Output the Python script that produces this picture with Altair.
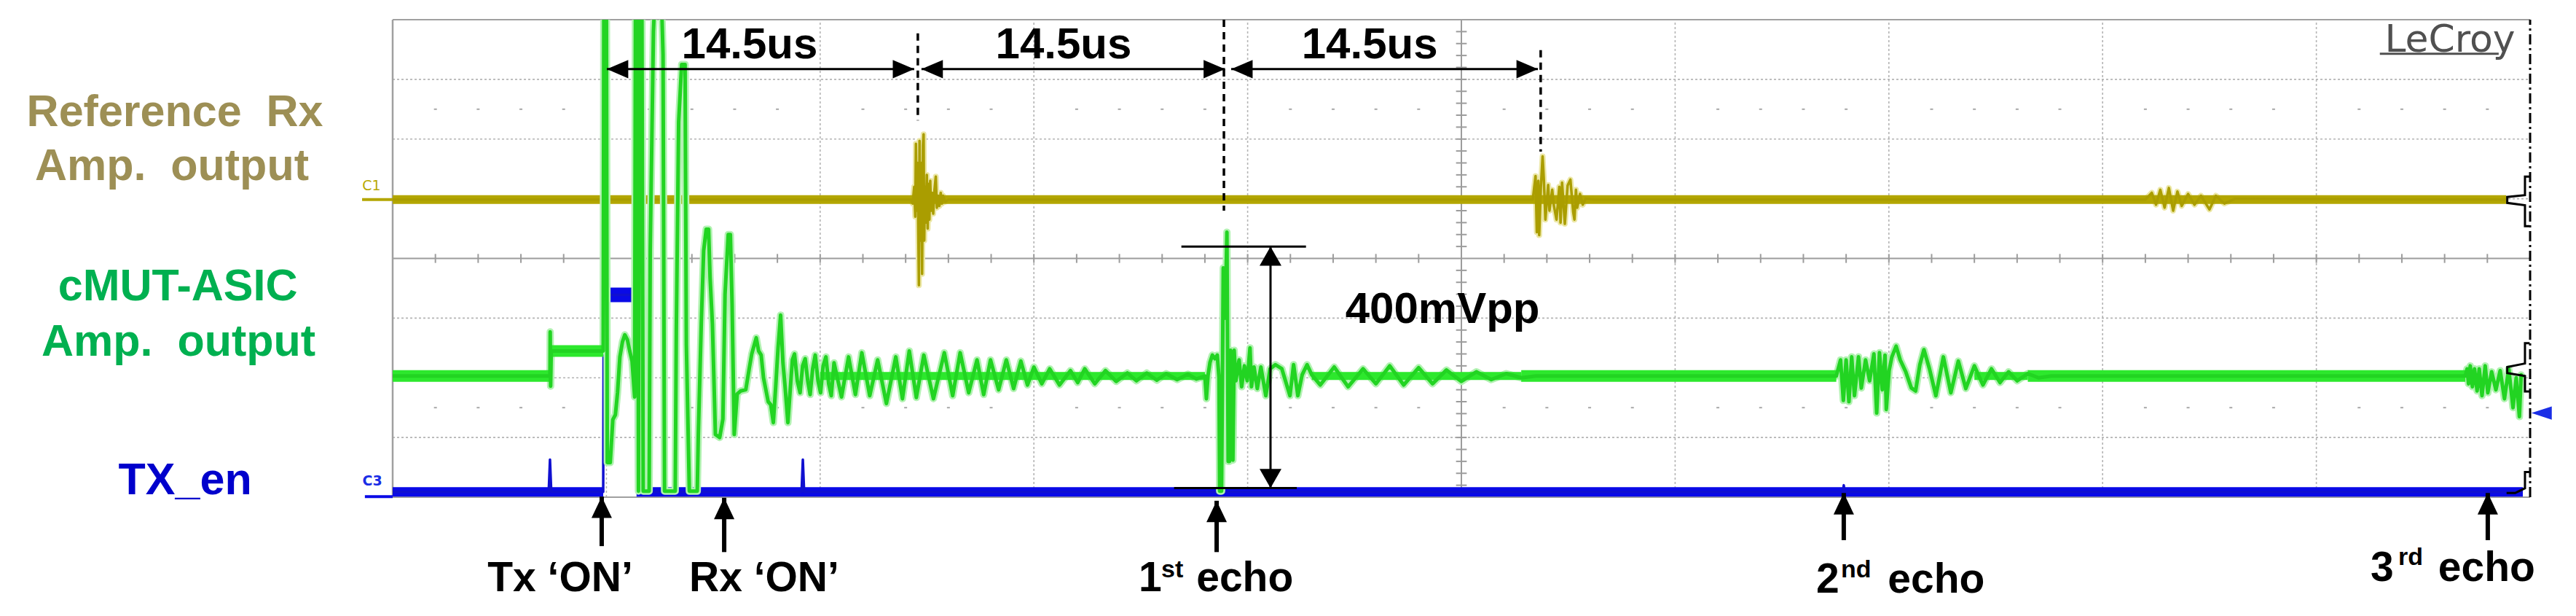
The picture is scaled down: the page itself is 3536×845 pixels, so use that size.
import altair as alt
import pandas as pd

# ---------------- data (time in divisions 0..10, amplitude in divisions -4..4) ----------------
# C1 : Reference Rx amplifier output (olive)
C1_T = [0.0, 2.425, 2.433, 2.440, 2.445, 2.448, 2.452, 2.456, 2.459, 2.462, 2.465, 2.469, 2.473,
        2.477, 2.481, 2.484, 2.487, 2.490, 2.494, 2.499, 2.503, 2.507, 2.511, 2.515, 2.519, 2.524,
        2.529, 2.535, 2.541, 2.546, 2.552, 2.558, 2.564, 2.570, 2.575, 2.585, 2.600,
        5.334, 5.347, 5.353, 5.360, 5.364, 5.372, 5.380, 5.386, 5.393, 5.406, 5.412, 5.425, 5.432,
        5.445, 5.458, 5.464, 5.471, 5.484, 5.497, 5.510, 5.523, 5.529, 5.536, 5.542, 5.555, 5.568,
        5.581, 5.620,
        8.200, 8.230, 8.250, 8.270, 8.290, 8.310, 8.330, 8.350, 8.370, 8.400, 8.430, 8.460, 8.500,
        8.530, 8.570, 8.620, 9.888]
C1_V = [0.985, 0.985, 0.92, 1.20, 0.70, 1.92, 0.80, 1.60, 0.50, -0.45, 1.97, 0.30, 1.60,
        -0.26, 1.90, 2.08, 0.30, 1.20, 0.60, 1.40, 0.50, 1.25, 0.65, 1.30, 0.80, 1.10,
        0.75, 1.15, 1.37, 0.85, 1.05, 0.88, 1.10, 0.92, 1.05, 0.95, 0.985,
        0.985, 1.38, 0.44, 1.30, 0.39, 1.20, 1.71, 1.31, 0.65, 1.23, 0.80, 1.15, 0.90,
        0.65, 1.20, 0.60, 1.27, 0.58, 1.22, 1.32, 0.78, 0.65, 1.15, 0.85, 1.08, 0.90,
        1.00, 0.985,
        0.985, 1.10, 0.90, 1.15, 0.85, 1.18, 0.80, 1.12, 0.88, 1.08, 0.90, 1.05, 0.82,
        1.05, 0.92, 1.00, 0.985]

# C2 : cMUT-ASIC amplifier output (green)
C2_T = [0.0, 0.736, 0.737, 0.739, 0.742, 0.985, 0.988, 1.000, 1.004, 1.018, 1.030, 1.042, 1.052,
        1.063, 1.075, 1.086, 1.098, 1.109, 1.120, 1.132, 1.136, 1.146, 1.150, 1.155, 1.166, 1.172,
        1.200, 1.205, 1.220, 1.226, 1.258, 1.265, 1.272, 1.322, 1.327, 1.338, 1.352, 1.368, 1.374,
        1.388, 1.425, 1.430, 1.444, 1.455, 1.467, 1.478, 1.485, 1.496, 1.510, 1.530, 1.545, 1.555,
        1.570, 1.580, 1.588, 1.598, 1.612, 1.628, 1.652, 1.668, 1.680, 1.701, 1.712, 1.724, 1.735,
        1.746, 1.757, 1.769, 1.781, 1.792, 1.803, 1.815, 1.826, 1.836, 1.849, 1.860, 1.870, 1.880,
        1.893, 1.906, 1.918, 1.930, 1.942, 1.953, 1.965, 1.977, 1.990, 2.002, 2.014, 2.027, 2.040,
        2.052, 2.065, 2.100, 2.133, 2.165, 2.195, 2.232, 2.269, 2.310, 2.354, 2.385, 2.417, 2.450,
        2.485, 2.530, 2.581, 2.620, 2.655, 2.695, 2.734, 2.765, 2.797, 2.835, 2.871, 2.905, 2.939,
        2.970, 3.000, 3.037, 3.074, 3.120, 3.171, 3.205, 3.238, 3.285, 3.335, 3.385, 3.437, 3.480,
        3.528, 3.575, 3.619, 3.670, 3.721, 3.760, 3.800,
        3.807, 3.815, 3.824, 3.835, 3.847, 3.858, 3.866, 3.869, 3.878, 3.886, 3.895, 3.903, 3.909,
        3.915, 3.920, 3.926, 3.931, 3.937, 3.945, 3.960, 3.972, 3.985, 3.998, 4.011, 4.018, 4.030,
        4.045, 4.062, 4.085, 4.105, 4.130, 4.160, 4.198, 4.215, 4.235, 4.255, 4.278, 4.300,
        4.340, 4.405, 4.470, 4.540, 4.600, 4.665, 4.730, 4.800, 4.865, 4.930, 5.000, 5.070, 5.140,
        5.210, 5.280, 5.350, 6.754,
        6.774, 6.787, 6.800, 6.813, 6.826, 6.839, 6.858, 6.871, 6.891, 6.910, 6.930, 6.943, 6.956,
        6.969, 6.982, 6.988, 7.001, 7.014, 7.034, 7.053, 7.079, 7.105, 7.125, 7.145, 7.164, 7.190,
        7.220, 7.255, 7.290, 7.325, 7.360, 7.400, 7.440, 7.480, 7.520, 7.560, 7.600, 7.650, 7.700,
        7.760, 9.697,
        9.705, 9.712, 9.720, 9.730, 9.740, 9.752, 9.762, 9.775, 9.790, 9.802, 9.820, 9.840, 9.860,
        9.880, 9.900, 9.920, 9.935, 9.950, 9.958, 9.965]
C2_V = [-1.97, -1.97, -1.23, -2.14, -1.55, -1.55, 4.3, 4.3, -3.42, -3.42, -2.70, -2.62, -2.25,
        -1.65, -1.40, -1.28, -1.36, -1.55, -1.72, -2.32, 4.3, 4.3, -3.90, 4.3, 4.3, -3.90,
        -3.90, 0.15, 3.80, 4.3, 4.3, 3.41, -3.90, -3.90, -1.23, 2.29, 3.25, 3.25, -1.44,
        -3.90, -3.90, -2.95, -1.07, 0.13, 0.49, 0.49, -0.32, -1.10, -2.95, -3.00, -2.69, -0.60,
        0.40, 0.40, -0.76, -2.95, -2.27, -2.22, -2.20, -1.85, -1.60, -1.33, -1.55, -1.62, -2.00,
        -2.20, -2.40, -2.45, -2.75, -2.15, -1.50, -0.95, -1.75, -2.15, -2.75, -2.20, -1.70, -1.60,
        -2.05, -2.25, -1.80, -1.68, -2.05, -2.28, -1.85, -1.62, -2.05, -2.25, -1.80, -1.65, -2.10,
        -2.30, -1.75, -2.32, -1.65, -2.28, -1.58, -2.30, -1.70, -2.43, -1.65, -2.35, -1.55, -2.33,
        -1.62, -2.35, -1.58, -2.30, -1.58, -2.25, -1.70, -2.28, -1.70, -2.20, -1.70, -2.18, -1.72,
        -2.12, -1.82, -2.10, -1.85, -2.12, -1.88, -2.08, -1.85, -2.10, -1.88, -2.06, -1.92, -2.05,
        -1.92, -2.04, -1.93, -2.03, -1.94, -2.02, -1.97,
        -2.35, -1.95, -1.74, -1.62, -1.68, -1.62, -2.00, -3.90, -3.90, -0.16, -1.00, 0.44, -3.40,
        -3.40, -1.54, -2.20, -3.38, -1.54, -2.05, -1.70, -2.15, -1.80, -2.05, -1.50, -2.15, -1.82,
        -2.18, -1.82, -2.30, -1.85, -1.78, -1.85, -2.30, -1.78, -2.30, -1.95, -1.78, -1.95,
        -2.12, -1.82, -2.15, -1.85, -2.10, -1.80, -2.12, -1.83, -2.10, -1.87, -2.06, -1.90, -2.03,
        -1.93, -2.00, -1.97, -1.97,
        -1.70, -2.38, -1.70, -2.40, -1.65, -2.30, -1.65, -2.17, -1.70, -2.05, -1.60, -2.59, -1.58,
        -2.20, -1.62, -2.53, -1.88, -1.65, -1.47, -1.70, -1.90, -2.17, -2.22, -1.78, -1.53, -1.85,
        -2.30, -1.65, -2.25, -1.72, -2.18, -1.80, -2.12, -1.85, -2.08, -1.90, -2.05, -1.93, -2.00,
        -1.97, -1.97,
        -1.85, -2.10, -1.80, -2.15, -1.85, -2.22, -1.85, -2.30, -1.80, -2.25, -1.90, -2.20, -1.88,
        -2.35, -1.85, -2.50, -2.00, -2.65, -1.95, -2.00]

# C3 : TX_en (blue)
C3_T = [0.0, 0.730, 0.736, 0.742, 0.985, 0.988, 0.990, 0.998, 1.138, 1.141, 1.913, 1.919, 1.925,
        6.785, 6.789, 6.793, 9.966]
C3_V = [-3.91, -3.91, -3.37, -3.91, -3.91, -0.02, -0.61, -0.61, -0.61, -3.91, -3.91, -3.37, -3.91,
        -3.91, -3.80, -3.91, -3.91]

# noise-band stretches: start, end, level
C1_QUIET = [(0.0, 9.888, 0.985)]
C2_QUIET = [(0.0, 0.736, -1.97), (0.742, 0.985, -1.55), (5.28, 6.754, -1.97), (7.65, 9.697, -1.97)]
C2_RIPPLE = [(2.0, 3.80, -1.97), (4.30, 5.28, -1.97), (7.40, 7.65, -1.97)]
C3_QUIET = [(0.0, 0.985, -3.91), (1.141, 9.966, -3.91)]
C3_HIGH = [(0.998, 1.138, -0.61)]

# annotations
SPAN_LABEL = "14.5us"
SPAN_START = [1.002, 2.474, 3.923]
SPAN_END = [2.440, 3.894, 5.358]
SPAN_TEXT_X = [1.670, 3.139, 4.571]
ECHO_MARK_X = [2.457, 3.889, 5.371]
ECHO_MARK_TOP = [3.77, 4.0, 3.49]
ECHO_MARK_BOT = [2.31, 0.80, 1.79]
VPP_LABEL = "400mVpp"
VPP_TOP, VPP_BOT = 0.20, -3.848
EVENT_X = [0.978, 1.551, 3.855, 6.789, 9.802]
EVENT_TIP = [-3.99, -4.01, -4.06, -3.93, -3.93]
EVENT_TAIL = [-4.82, -4.92, -4.92, -4.72, -4.72]
CH_LABELS = ["Reference\u00a0 Rx", "Amp.\u00a0 output", "cMUT-ASIC", "Amp.\u00a0 output", "TX_en"]
CH_COLORS = ["#9d8f55", "#9d8f55", "#00b050", "#00b050", "#0000cc"]
CH_X = [-1.019, -1.033, -1.005, -1.002, -0.971]
CH_Y = [2.22, 1.309, -0.70, -1.635, -3.95]

# ---------------- helpers ----------------
W, H = 2934, 655
xs = alt.Scale(domain=[0, 10], nice=False, zero=False)
ys = alt.Scale(domain=[-4, 4], nice=False, zero=False)


def X(f="x"):
    return alt.X(f"{f}:Q", scale=xs, axis=None)


def Y(f="y"):
    return alt.Y(f"{f}:Q", scale=ys, axis=None)


def trace(T, V, color, width, clip=True, opacity=1.0):
    df = pd.DataFrame({"x": T, "y": V, "i": list(range(len(T)))})
    return alt.Chart(df).mark_line(color=color, strokeWidth=width, clip=clip, opacity=opacity,
                                   strokeJoin="round").encode(X(), Y(), order="i:Q")


def hrules(segs, color, width, dash=None):
    df = pd.DataFrame({"x": [s[0] for s in segs], "x2": [s[1] for s in segs], "y": [s[2] for s in segs]})
    kw = dict(color=color, strokeWidth=width)
    if dash:
        kw["strokeDash"] = dash
    return alt.Chart(df).mark_rule(**kw).encode(X(), alt.X2("x2:Q"), Y())


def vrules(segs, color, width, dash=None):
    df = pd.DataFrame({"x": [s[0] for s in segs], "y": [s[1] for s in segs], "y2": [s[2] for s in segs]})
    kw = dict(color=color, strokeWidth=width)
    if dash:
        kw["strokeDash"] = dash
    return alt.Chart(df).mark_rule(**kw).encode(X(), Y(), alt.Y2("y2:Q"))


def heads(px, py, shape, size, color="black"):
    df = pd.DataFrame({"x": px, "y": py})
    return alt.Chart(df).mark_point(shape=shape, size=size, filled=True, color=color, opacity=1,
                                    strokeWidth=0).encode(X(), Y())


def texts(px, py, labels, size, color="black", align="center", weight="bold", font="Liberation Sans"):
    df = pd.DataFrame({"x": px, "y": py, "t": labels})
    return alt.Chart(df).mark_text(fontSize=size, color=color, align=align, baseline="alphabetic",
                                   fontWeight=weight, font=font).encode(X(), Y(), text="t:N")


def polyline(points, color, width):
    df = pd.DataFrame({"x": [p[0] for p in points], "y": [p[1] for p in points],
                       "i": list(range(len(points)))})
    return alt.Chart(df).mark_line(color=color, strokeWidth=width, strokeJoin="miter").encode(X(), Y(), order="i:Q")


layers = []

# ---------------- graticule ----------------
GRID = "#b4b4b4"
layers.append(vrules([(v, -4, 4) for v in [1, 2, 3, 4, 6, 7, 8, 9]], GRID, 1.6, [3, 3]))
layers.append(hrules([(0, 10, v) for v in [-3, -2, -1, 1, 2, 3]], GRID, 1.6, [3, 3]))
layers.append(vrules([(5, -4, 4)], "#9c9c9c", 2))
layers.append(hrules([(0, 10, 0)], "#9c9c9c", 2))
tick_x = [round(0.2 * k, 2) for k in range(1, 50) if k != 25]
layers.append(vrules([(t, -0.075, 0.075) for t in tick_x], "#9c9c9c", 2))
tick_y = [round(-4 + 0.2 * k, 2) for k in range(1, 40) if k != 20]
layers.append(hrules([(4.975, 5.025, t) for t in tick_y], "#9c9c9c", 2))
dot_x = [round(0.2 * k, 2) for k in range(1, 50) if k % 5 != 0]
layers.append(heads(dot_x * 2, [2.5] * len(dot_x) + [-2.5] * len(dot_x),
                    "M-1,-0.5L1,-0.5L1,0.5L-1,0.5Z", 16, "#a8a8a8"))
# screen frame
layers.append(hrules([(0, 10, 4), (0, 10, -4)], "#a0a0a0", 2))
layers.append(vrules([(0, -4, 4)], "#a0a0a0", 2.5))

# ---------------- traces ----------------
# C1 olive
layers.append(trace(C1_T, C1_V, "#ece7a6", 8))
layers.append(hrules(C1_QUIET, "#b3a600", 12))
layers.append(hrules([(-0.143, 0.0, 0.985)], "#b3a600", 4))
layers.append(trace(C1_T, C1_V, "#aa9d00", 3.5))
# C3 blue
layers.append(hrules(C3_QUIET, "#0a0ae6", 13))
layers.append(hrules(C3_HIGH, "#0a0ae6", 20))
layers.append(hrules([(-0.13, 0.0, -3.99)], "#0a0ae6", 4))
layers.append(trace(C3_T, C3_V, "#1010d0", 3.5))
# C2 green
layers.append(trace(C2_T, C2_V, "#b2f2b2", 10))
layers.append(hrules(C2_QUIET, "#2de82d", 16))
layers.append(hrules(C2_RIPPLE, "#2de82d", 11))
layers.append(trace(C2_T, C2_V, "#22d422", 5))

# right-edge markers
layers.append(vrules([(10.0, -4, 4)], "black", 3, [14, 5, 3, 5]))
layers.append(polyline([(9.998, 1.37), (9.976, 1.37), (9.976, 1.06), (9.893, 1.03), (9.893, 0.93),
                        (9.976, 0.89), (9.976, 0.54), (9.998, 0.54)], "black", 3))
layers.append(polyline([(9.998, -1.42), (9.976, -1.42), (9.976, -1.76), (9.893, -1.82), (9.893, -1.92),
                        (9.976, -1.97), (9.976, -2.23), (9.998, -2.23)], "black", 3))
layers.append(polyline([(9.998, -3.58), (9.976, -3.58), (9.976, -3.85), (9.93, -3.93), (9.89, -3.93)],
                       "black", 3))
layers.append(heads([10.006], [-2.59], "M0,0L2,-0.65L2,0.65Z", 784, "#1a2ee6"))

# channel tags on the screen edge
layers.append(texts([-0.099], [1.142], ["C1"], 19, "#b8a800", weight="normal", font="DejaVu Sans"))
layers.append(texts([-0.095], [-3.80], ["C3"], 19, "#1a2ee6", weight="bold", font="DejaVu Sans"))

# LeCroy logo
layers.append(texts([9.625], [3.459], ["LeCroy"], 52, "#505050", weight="normal", font="DejaVu Sans"))
layers.append(hrules([(9.297, 9.853, 3.43)], "#505050", 3))

# ---------------- annotations ----------------
layers.append(vrules(list(zip(ECHO_MARK_X, ECHO_MARK_TOP, ECHO_MARK_BOT)), "black", 3.5, [10, 7]))
layers.append(hrules([(a, b, 3.172) for a, b in zip(SPAN_START, SPAN_END)], "black", 3))
layers.append(heads(SPAN_START, [3.172] * 3, "M0,0L2.1,-0.9L2.1,0.9Z", 784))
layers.append(heads(SPAN_END, [3.172] * 3, "M0,0L-2.1,-0.9L-2.1,0.9Z", 784))
layers.append(texts(SPAN_TEXT_X, [3.355] * 3, [SPAN_LABEL] * 3, 60))

# 400 mVpp marker
layers.append(hrules([(3.690, 4.273, VPP_TOP), (3.656, 4.230, VPP_BOT)], "black", 3))
layers.append(vrules([(4.107, VPP_TOP, VPP_BOT)], "black", 3))
layers.append(heads([4.107], [VPP_TOP], "M0,0L-1,1.75L1,1.75Z", 900))
layers.append(heads([4.107], [VPP_BOT], "M0,0L-1,-1.75L1,-1.75Z", 900))
layers.append(texts([4.457], [-1.08], [VPP_LABEL], 60, align="left"))

# event arrows under the screen
layers.append(vrules([(x, t, b) for x, t, b in zip(EVENT_X, EVENT_TIP, EVENT_TAIL)], "black", 6))
layers.append(heads(EVENT_X, EVENT_TIP, "M0,0L-1,2.1L1,2.1Z", 784))
layers.append(texts([0.784, 1.738], [-5.576, -5.576], ["Tx \u2018ON\u2019", "Rx \u2018ON\u2019"], 57))
layers.append(texts([3.490, 6.660, 9.254], [-5.576, -5.60, -5.405], ["1", "2", "3"], 57, align="left"))
layers.append(texts([3.596, 6.776, 9.383], [-5.343, -5.343, -5.136], ["st", "nd", "rd"], 34, align="left"))
layers.append(texts([3.760, 6.995, 9.570], [-5.576, -5.60, -5.405], ["echo", "echo", "echo"], 57, align="left"))

# channel names on the left
ch_df = pd.DataFrame({"x": CH_X, "y": CH_Y, "t": CH_LABELS, "c": CH_COLORS})
layers.append(alt.Chart(ch_df).mark_text(fontSize=61, align="center", baseline="alphabetic",
                                         fontWeight="bold", font="Liberation Sans").encode(
    X(), Y(), text="t:N", color=alt.Color("c:N", scale=None)))

chart = alt.layer(*layers).properties(
    width=W, height=H,
    padding={"left": 531, "top": 19, "right": 55, "bottom": 155},
    autosize=alt.AutoSizeParams(type="none"),
    background="white",
).configure_view(strokeWidth=0)

chart.save("out.html", embed_options={"renderer": "svg", "actions": False})
